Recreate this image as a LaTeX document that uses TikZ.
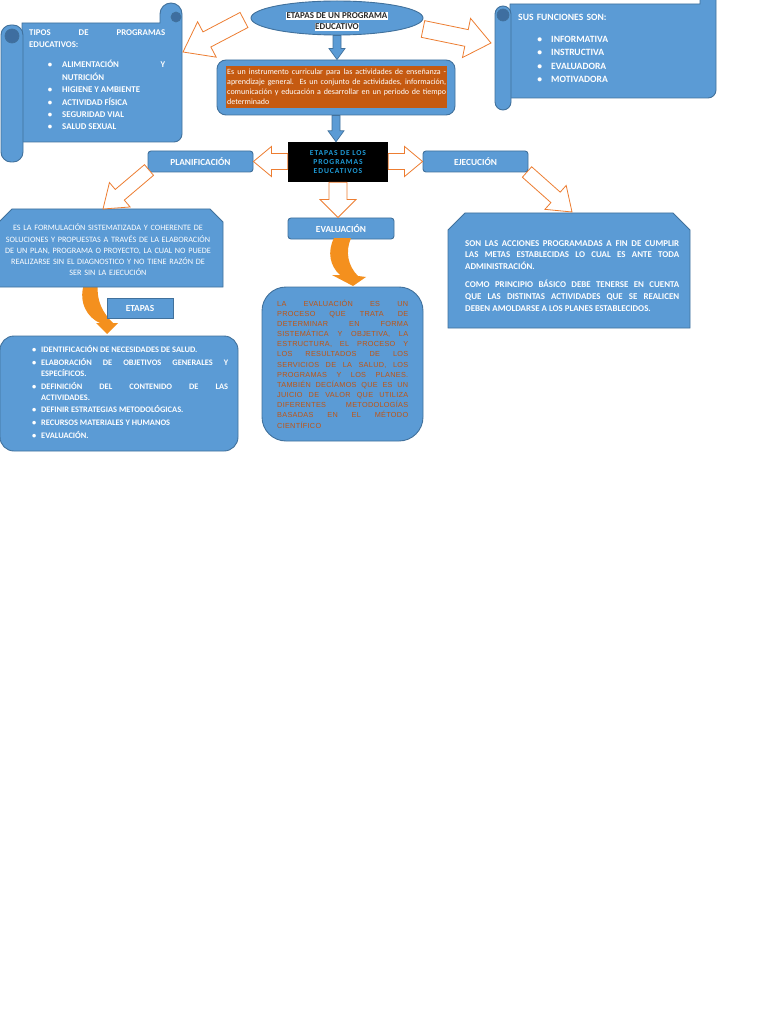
\documentclass[tikz,border=0pt]{standalone}
\usepackage{fontspec}
\setmainfont{Carlito}
\newfontfamily\spacedbf[LetterSpace=12]{Carlito}
\newfontfamily\evalfont[LetterSpace=4]{Liberation Sans}
\usetikzlibrary{shapes.geometric,calc}
\definecolor{bfill}{RGB}{91,155,213}
\definecolor{bdraw}{RGB}{65,113,156}
\definecolor{bcurl}{RGB}{62,110,160}
\definecolor{aor}{RGB}{237,125,49}
\definecolor{cor}{RGB}{244,144,30}
\definecolor{oboxc}{RGB}{197,90,17}
\definecolor{etxt}{RGB}{192,84,18}
\definecolor{ctxt}{RGB}{30,155,215}
\definecolor{dtxt}{RGB}{40,40,40}
\hyphenpenalty=10000
\exhyphenpenalty=10000
\tolerance=10000
\newcommand\fs[2]{\fontsize{#1}{#2}\selectfont}
\newcommand\bitem[2]{\hangindent=#1\hangafter=0\leavevmode\llap{\textbullet\hspace{#2}}\ignorespaces}
\newcommand\blockarrow[6]{%
  \path ($(#3)!#6!(#2)$) coordinate (bah);
  \draw[#1] ($(#2)!#4!90:(#3)$) -- ($(bah)!#4!-90:(#2)$) -- ($(bah)!#5!-90:(#2)$) -- (#3)
    -- ($(bah)!#5!90:(#2)$) -- ($(bah)!#4!90:(#2)$) -- ($(#2)!#4!-90:(#3)$) -- cycle;}
\begin{document}
\begin{tikzpicture}[x=1pt,y=-1pt,
  blbox/.style={fill=bfill,draw=bdraw,line width=0.9pt},
  lab/.style={blbox,rounded corners=3pt,text=white,font=\bfseries\fs{9.3}{11},inner sep=0pt},
  oarr/.style={draw=aor,fill=white,line width=0.8pt,line join=miter},
  barr/.style={fill=bfill,draw=bdraw,line width=0.7pt},
  wtxt/.style={text=white,inner sep=0pt},
  curl/.style={draw=bdraw,fill=bcurl,line width=0.7pt}]
\useasboundingbox (0,0) rectangle (768,1024);
\fill[white] (0,0) rectangle (768,1024);

% ---------- left scroll ----------
\draw[blbox] (22,142) -- (22,23) -- (160,23) -- (160,14) arc[start angle=180,end angle=360,radius=11]
  -- (182,134) arc[start angle=0,end angle=90,radius=8] -- cycle;
\draw[curl] (176,17) circle[radius=5];
\draw[blbox,rounded corners=10pt] (1,25) rectangle (23,162);
\draw[curl] (12,36) circle[radius=7];
\node[wtxt,anchor=base west,text width=136,align=justify,font=\bfseries\fs{8.8}{12.4}] (ltxt) at (29,35.5)
 {TIPOS DE PROGRAMAS\linebreak EDUCATIVOS:\par\vspace{7.6pt}%
  \bitem{33pt}{10pt}ALIMENTACIÓN Y\linebreak NUTRICIÓN\par
  \bitem{33pt}{10pt}HIGIENE Y AMBIENTE\par
  \bitem{33pt}{10pt}ACTIVIDAD FÍSICA\par
  \bitem{33pt}{10pt}SEGURIDAD VIAL\par
  \bitem{33pt}{10pt}SALUD SEXUAL\par};

% ---------- right scroll ----------
\draw[blbox] (510,98) -- (510,4) -- (700,4) -- (700,-3) -- (716,-3)
  -- (716,90) arc[start angle=0,end angle=90,radius=8] -- cycle;
\draw[blbox,rounded corners=8pt] (495,6) rectangle (511,110);
\draw[curl] (503,15) circle[radius=6];
\node[wtxt,anchor=base west,text width=190,align=left,font=\bfseries\fs{9.6}{13.3}] (rtxt) at (518,20.5)
 {SUS FUNCIONES SON:\par\vspace{8.7pt}%
  \bitem{33pt}{9pt}INFORMATIVA\par
  \bitem{33pt}{9pt}INSTRUCTIVA\par
  \bitem{33pt}{9pt}EVALUADORA\par
  \bitem{33pt}{9pt}MOTIVADORA\par};

% ---------- top ellipse ----------
\node[ellipse,blbox,minimum width=172,minimum height=34] (ell) at (337,18) {};
\node[fill=white,inner sep=0.6pt,anchor=base,text=dtxt,font=\bfseries\fs{9}{10}] (et1) at (337,19) {ETAPAS DE UN PROGRAMA};
\node[fill=white,inner sep=0.6pt,anchor=base,text=dtxt,font=\bfseries\fs{9}{10}] (et2) at (337,30) {EDUCATIVO};

% ---------- definition box ----------
\node[blbox,rounded corners=9pt,minimum width=238,minimum height=55] (obox) at (336,87.5) {};
\fill[oboxc] (226,66) rectangle (447,108);
\node[wtxt,anchor=base west,text width=219,align=justify,font=\fs{8}{10}] (otxt) at (227,74.5)
 {Es un instrumento curricular para las actividades de enseñanza -\linebreak
  aprendizaje general. Es un conjunto de actividades, información,\linebreak
  comunicación y educación a desarrollar en un periodo de tiempo\linebreak
  determinado};

% ---------- central black box ----------
\node[fill=black,minimum width=100,minimum height=40,inner sep=0pt,text=ctxt,align=center,
  font=\spacedbf\bfseries\fs{7.6}{9}] (black) at (338,162) {ETAPAS DE LOS\\PROGRAMAS\\EDUCATIVOS};

% ---------- labels ----------
\node[lab,minimum width=105,minimum height=21] (plan) at (200.5,161.5) {PLANIFICACIÓN};
\node[lab,minimum width=105,minimum height=21] (ejec) at (475.5,161.5) {EJECUCIÓN};
\node[lab,minimum width=106,minimum height=21] (evalb) at (341,228.5) {EVALUACIÓN};

% ---------- curved orange arrows ----------
\fill[cor] (84,284) .. controls (78,303) and (88,318) .. (100,323) -- (96,323) -- (107,334) -- (118,323)
  -- (113,323) .. controls (103,313) and (96,301) .. (98,284) -- cycle;
\fill[cor] (334,238) .. controls (327,252) and (330,266) .. (340,275) -- (332,275) -- (353,286) -- (366,277)
  -- (358,276) .. controls (348,266) and (345,252) .. (351,238) -- cycle;

% ---------- left definition box ----------
\draw[blbox] (-2,287) -- (-2,223) -- (12,209) -- (210,209) -- (223,222) -- (223,287) -- cycle;
\node[wtxt,anchor=base,text width=216,align=center,font=\fs{8.2}{11.2}] (lbtxt) at (108,231)
 {ES LA FORMULACIÓN SISTEMATIZADA Y COHERENTE DE\\
  SOLUCIONES Y PROPUESTAS A TRAVÉS DE LA ELABORACIÓN\\
  DE UN PLAN, PROGRAMA O PROYECTO, LA CUAL NO PUEDE\\
  REALIZARSE SIN EL DIAGNOSTICO Y NO TIENE RAZÓN DE\\
  SER SIN LA EJECUCIÓN};

\node[lab,rounded corners=0pt,minimum width=66,minimum height=20] (etapas) at (140,308) {ETAPAS};

% ---------- bottom-left list ----------
\draw[blbox,rounded corners=14pt] (0,336) rectangle (238,451);
\node[wtxt,anchor=base west,text width=208,align=justify,font=\bfseries\fs{8.4}{11}] (bltxt) at (20,352.5)
 {\setlength{\parskip}{1.8pt}%
  \bitem{21pt}{5pt}IDENTIFICACIÓN DE NECESIDADES DE SALUD.\par
  \bitem{21pt}{5pt}ELABORACIÓN DE OBJETIVOS GENERALES Y\linebreak ESPECÍFICOS.\par
  \bitem{21pt}{5pt}DEFINICIÓN DEL CONTENIDO DE LAS\linebreak ACTIVIDADES.\par
  \bitem{21pt}{5pt}DEFINIR ESTRATEGIAS METODOLÓGICAS.\par
  \bitem{21pt}{5pt}RECURSOS MATERIALES Y HUMANOS\par
  \bitem{21pt}{5pt}EVALUACIÓN.\par};

% ---------- evaluation box ----------
\draw[blbox,rounded corners=24pt] (262,287) rectangle (423,441);
\node[inner sep=0pt,text=etxt,anchor=base west,text width=131,align=justify,font=\evalfont\fs{7.3}{10.17}] (evtxt) at (277,306)
 {LA EVALUACIÓN ES UN\linebreak
  PROCESO QUE TRATA DE\linebreak
  DETERMINAR EN FORMA\linebreak
  SISTEMÁTICA Y OBJETIVA, LA\linebreak
  ESTRUCTURA, EL PROCESO Y\linebreak
  LOS RESULTADOS DE LOS\linebreak
  SERVICIOS DE LA SALUD, LOS\linebreak
  PROGRAMAS Y LOS PLANES.\linebreak
  TAMBIÉN DECÍAMOS QUE ES UN\linebreak
  JUICIO DE VALOR QUE UTILIZA\linebreak
  DIFERENTES METODOLOGÍAS\linebreak
  BASADAS EN EL MÉTODO\linebreak
  CIENTÍFICO};

% ---------- right execution box ----------
\draw[blbox] (448,328) -- (448,230) -- (465,213) -- (673,213) -- (690,230) -- (690,328) -- cycle;
\node[wtxt,anchor=base west,text width=214,align=justify,font=\bfseries\fs{8.9}{11.8}] (rbtxt) at (465,246)
 {SON LAS ACCIONES PROGRAMADAS A FIN DE CUMPLIR\linebreak
  LAS METAS ESTABLECIDAS LO CUAL ES ANTE TODA\linebreak
  ADMINISTRACIÓN.\par\vspace{6.5pt}%
  COMO PRINCIPIO BÁSICO DEBE TENERSE EN CUENTA\linebreak
  QUE LAS DISTINTAS ACTIVIDADES QUE SE REALICEN\linebreak
  DEBEN AMOLDARSE A LOS PLANES ESTABLECIDOS.};

% ---------- blue arrows ----------
\coordinate (a1e) at (ell.south |- obox.north);
\blockarrow{barr}{ell.south}{a1e}{4pt}{8pt}{11pt}
\coordinate (a2e) at (obox.south |- black.north);
\blockarrow{barr}{obox.south}{a2e}{4pt}{8pt}{11pt}

% ---------- open orange arrows ----------
\coordinate (t1a) at (244,20);  \coordinate (t1b) at (183,52);
\blockarrow{oarr}{t1a}{t1b}{8.5pt}{20pt}{27pt}
\coordinate (t2a) at (423,29);  \coordinate (t2b) at (491,43);
\blockarrow{oarr}{t2a}{t2b}{8.5pt}{20pt}{25pt}
\coordinate (t3a) at (149,170); \coordinate (t3b) at (103,209);
\blockarrow{oarr}{t3a}{t3b}{7pt}{16pt}{22pt}
\coordinate (t4a) at (527,172); \coordinate (t4b) at (572,212);
\blockarrow{oarr}{t4a}{t4b}{7pt}{16pt}{22pt}
\coordinate (c1) at (black.west |- plan.east);
\blockarrow{oarr}{c1}{plan.east}{8pt}{15pt}{18pt}
\coordinate (c2) at (black.east |- ejec.west);
\blockarrow{oarr}{c2}{ejec.west}{8pt}{15pt}{18pt}
\coordinate (c3) at (black.south |- evalb.north);
\blockarrow{oarr}{black.south}{c3}{9pt}{18pt}{18pt}
\end{tikzpicture}
\end{document}
